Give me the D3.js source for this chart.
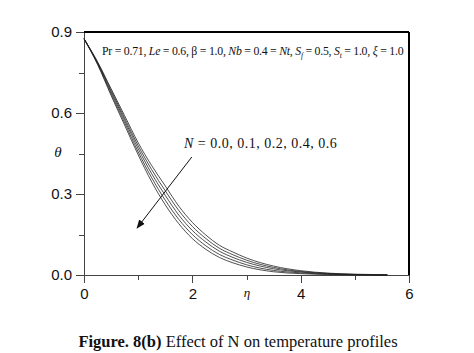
<!DOCTYPE html>
<head>
  <meta charset="utf-8">
  <script src="https://d3js.org/d3.v7.min.js"></script>
  <style>
    body { margin: 0; background: #fff; }
    .tick text { font-family: "Liberation Sans", Arial, sans-serif; font-size: 15px; fill: #111; }
    .axis path, .axis line { stroke: #444; shape-rendering: crispEdges; }
    .curve { fill: none; stroke: #222; stroke-width: 0.8px; }
    .frame { stroke: #000; stroke-width: 1.6px; shape-rendering: crispEdges; }
    .serif { font-family: "Liberation Serif", "Times New Roman", serif; fill: #111; }
  </style>
</head>
<body>
<div id="chart"></div>
<script>
// eta grid and theta profiles for N = 0.0, 0.1, 0.2, 0.4, 0.6
var eta = [0, 0.25, 0.5, 0.75, 1, 1.25, 1.5, 1.75, 2, 2.25, 2.5, 2.75, 3, 3.5, 4, 4.5, 5, 5.5, 5.6];
var nValues = ['0.0', '0.1', '0.2', '0.4', '0.6'];
var thetaN00 = [0.875, 0.79, 0.69, 0.59, 0.49, 0.405, 0.33, 0.255, 0.195, 0.148, 0.11, 0.085, 0.063, 0.033, 0.016, 0.007, 0.003, 0.001, 0];
var thetaN01 = [0.875, 0.787, 0.684, 0.581, 0.479, 0.39, 0.312, 0.239, 0.18, 0.135, 0.099, 0.075, 0.055, 0.028, 0.013, 0.006, 0.002, 0.0008, 0];
var thetaN02 = [0.875, 0.785, 0.678, 0.573, 0.468, 0.375, 0.295, 0.222, 0.165, 0.122, 0.088, 0.065, 0.047, 0.023, 0.011, 0.0045, 0.0017, 0.0005, 0];
var thetaN04 = [0.875, 0.782, 0.671, 0.564, 0.456, 0.36, 0.277, 0.206, 0.15, 0.108, 0.076, 0.055, 0.038, 0.017, 0.008, 0.003, 0.001, 0.0002, 0];
var thetaN06 = [0.875, 0.78, 0.665, 0.555, 0.445, 0.345, 0.26, 0.19, 0.135, 0.095, 0.065, 0.045, 0.03, 0.012, 0.005, 0.002, 0.0005, 0, 0];
var series = [thetaN00, thetaN01, thetaN02, thetaN04, thetaN06];

var xMajor = [0, 2, 4, 6], xMinor = [1, 3, 5];
var yMajor = [0.0, 0.3, 0.6, 0.9], yMinor = [0.15, 0.45, 0.75];

// arrow from label down toward lower N curves, in data units
var arrowFrom = [1.99, 0.437], arrowTo = [0.98, 0.174];

var width = 474, height = 353;
var svg = d3.select("#chart").append("svg")
    .attr("width", width)
    .attr("height", height);

var x = d3.scaleLinear().domain([0, 6]).range([84, 409]);
var y = d3.scaleLinear().domain([0, 0.9]).range([275, 32]);

// minor ticks
svg.append("g").attr("class", "axis")
    .attr("transform", "translate(0," + y(0) + ")")
    .call(d3.axisBottom(x).tickValues(xMinor).tickSize(5).tickFormat(""))
    .select(".domain").remove();
svg.append("g").attr("class", "axis")
    .attr("transform", "translate(" + x(0) + ",0)")
    .call(d3.axisLeft(y).tickValues(yMinor).tickSize(5).tickFormat(""))
    .select(".domain").remove();

// major axes
svg.append("g").attr("class", "axis")
    .attr("transform", "translate(0," + y(0) + ")")
    .call(d3.axisBottom(x).tickValues(xMajor).tickSize(8).tickSizeOuter(0).tickPadding(5).tickFormat(d3.format("d")));
svg.append("g").attr("class", "axis")
    .attr("transform", "translate(" + x(0) + ",0)")
    .call(d3.axisLeft(y).tickValues(yMajor).tickSize(8).tickSizeOuter(0).tickPadding(4).tickFormat(d3.format(".1f")));

// frame top and right
svg.append("line").attr("class", "frame")
    .attr("x1", x(0)).attr("x2", x(6)).attr("y1", y(0.9)).attr("y2", y(0.9));
svg.append("line").attr("class", "frame")
    .attr("x1", x(6)).attr("x2", x(6)).attr("y1", y(0.9)).attr("y2", y(0));

var line = d3.line()
    .x(function(d, i) { return x(eta[i]); })
    .y(function(d) { return y(d); })
    .curve(d3.curveMonotoneX);

svg.selectAll(".curve")
    .data(series)
  .enter().append("path")
    .attr("class", "curve")
    .attr("d", line);

// arrow
svg.append("defs").append("marker")
    .attr("id", "head")
    .attr("viewBox", "0 0 10 10")
    .attr("refX", 9).attr("refY", 5)
    .attr("markerWidth", 9).attr("markerHeight", 9)
    .attr("markerUnits", "userSpaceOnUse")
    .attr("orient", "auto")
  .append("path")
    .attr("d", "M0,1 L10,5 L0,9 z")
    .attr("fill", "#111");

svg.append("line")
    .attr("x1", x(arrowFrom[0])).attr("y1", y(arrowFrom[1]))
    .attr("x2", x(arrowTo[0])).attr("y2", y(arrowTo[1]))
    .attr("stroke", "#111").attr("stroke-width", 1)
    .attr("marker-end", "url(#head)");

// parameter text
var params = svg.append("text").attr("class", "serif")
    .attr("x", 102).attr("y", 55)
    .attr("font-size", 11.8)
    .attr("letter-spacing", -0.25);
params.append("tspan").text("Pr = 0.71, ");
params.append("tspan").attr("font-style", "italic").text("Le");
params.append("tspan").text(" = 0.6, β = 1.0, ");
params.append("tspan").attr("font-style", "italic").text("Nb");
params.append("tspan").text(" = 0.4 = ");
params.append("tspan").attr("font-style", "italic").text("Nt");
params.append("tspan").text(", ");
params.append("tspan").attr("font-style", "italic").text("S");
params.append("tspan").attr("font-style", "italic").attr("font-size", 7.5).attr("dy", 3).text("f");
params.append("tspan").attr("dy", -3).text(" = 0.5, ");
params.append("tspan").attr("font-style", "italic").text("S");
params.append("tspan").attr("font-style", "italic").attr("font-size", 7.5).attr("dy", 3).text("t");
params.append("tspan").attr("dy", -3).text(" = 1.0, ");
params.append("tspan").attr("font-style", "italic").text("ξ");
params.append("tspan").text(" = 1.0");

// N label
var nLabel = svg.append("text").attr("class", "serif")
    .attr("x", 184).attr("y", 148)
    .attr("font-size", 14)
    .attr("letter-spacing", 0.5);
nLabel.append("tspan").attr("font-style", "italic").text("N");
nLabel.append("tspan").text(" = " + nValues.join(", "));

// axis titles
svg.append("text").attr("class", "serif")
    .attr("x", 58).attr("y", 157)
    .attr("text-anchor", "middle")
    .attr("font-size", 15).attr("font-style", "italic")
    .text("θ");
svg.append("text").attr("class", "serif")
    .attr("x", 247).attr("y", 297)
    .attr("text-anchor", "middle")
    .attr("font-size", 13).attr("font-style", "italic")
    .text("η");

// caption
var cap = svg.append("text").attr("class", "serif")
    .attr("x", 238).attr("y", 347)
    .attr("text-anchor", "middle")
    .attr("font-size", 16.5);
cap.append("tspan").attr("font-weight", "bold").text("Figure. 8(b)");
cap.append("tspan").text(" Effect of N on temperature profiles");
</script>
</body>
